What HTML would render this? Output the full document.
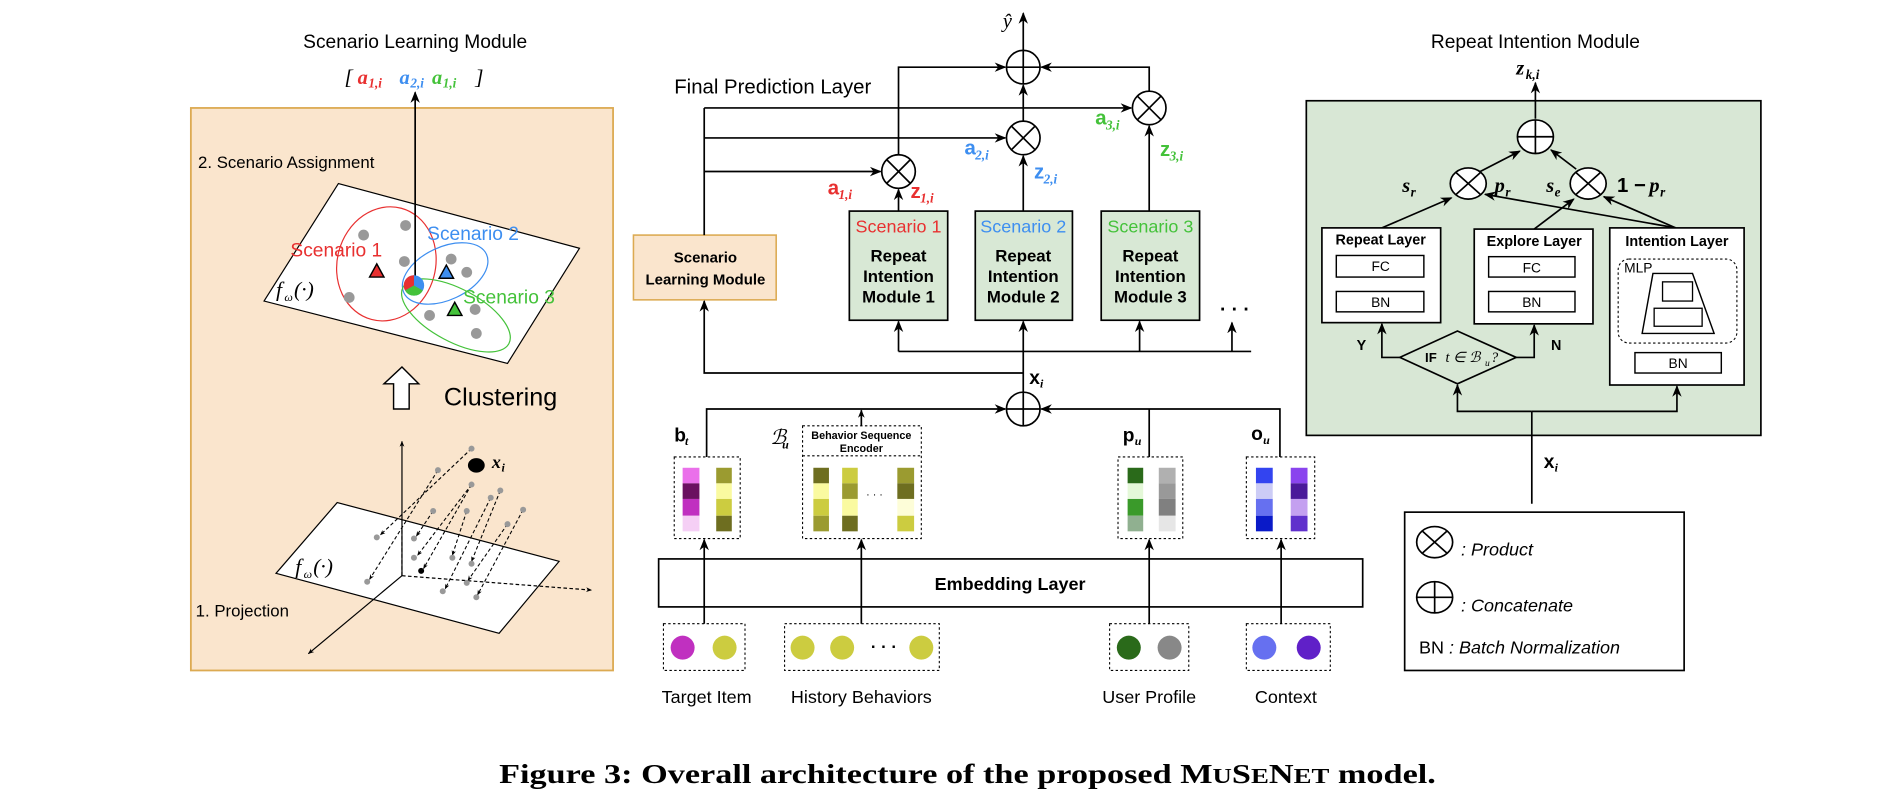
<!DOCTYPE html>
<html><head><meta charset="utf-8"><style>
html,body{margin:0;padding:0;background:#fff}
svg{display:block}
text{font-family:"Liberation Sans",sans-serif}
text.m,tspan.m{font-family:"Liberation Serif",serif;font-style:italic}
.b{font-weight:bold}
text.cap{font-family:"Liberation Serif",serif;font-weight:bold}
</style></head><body>
<svg width="1881" height="806" viewBox="0 0 1568 672" xmlns="http://www.w3.org/2000/svg">
<defs>
<marker id="a" viewBox="0 0 10 10" refX="9" refY="5" markerWidth="7" markerHeight="7" orient="auto"><path d="M0,1 L10,5 L0,9 L3,5z" fill="#000"/></marker>
<marker id="s" viewBox="0 0 10 10" refX="9" refY="5" markerWidth="5" markerHeight="5" orient="auto"><path d="M0,1 L10,5 L0,9 L3,5z" fill="#000"/></marker>
</defs>
<g stroke="#000" fill="none" stroke-width="1.4">
<rect x="159" y="90" width="352" height="469" fill="#fae5cd" stroke="#dcaa52" stroke-width="1.5"/>
<polygon points="220,251 282,153 483,207 423,303" fill="#fff" stroke-width="1"/>
<ellipse cx="322" cy="220" rx="41" ry="48" transform="rotate(15 322 220)" stroke="#e83030" stroke-width="1"/>
<ellipse cx="371" cy="228" rx="38" ry="22" transform="rotate(-25 371 228)" stroke="#3d8ef0" stroke-width="1"/>
<ellipse cx="380" cy="263" rx="50" ry="22" transform="rotate(28 380 263)" stroke="#44c23a" stroke-width="1"/>
<line x1="346" y1="234" x2="346" y2="77" marker-end="url(#a)"/>
<polygon points="314,220 308,231 320,231" fill="#e83030" stroke-width="1.2"/>
<polygon points="372,221 366,232 378,232" fill="#3d8ef0" stroke-width="1.2"/>
<polygon points="379,252 373,263 385,263" fill="#44c23a" stroke-width="1.2"/>
<path d="M320,320 L335,306 L349,320 L341,320 L341,341 L328,341 L328,320z" fill="#fff" stroke-width="1.2"/>
<polygon points="230,478 281,419 466,468 416,528" fill="#fff" stroke-width="1"/>
<line x1="335" y1="480" x2="335" y2="368" marker-end="url(#s)" stroke-width="1"/>
<line x1="335" y1="480" x2="257" y2="545" marker-end="url(#s)" stroke-width="1"/>
<line x1="335" y1="480" x2="493" y2="492" marker-end="url(#s)" stroke-width="1" stroke-dasharray="3,2"/>
<line x1="335" y1="480" x2="335" y2="440" stroke-width="1" stroke-dasharray="3,2"/>
<g stroke-dasharray="3,2" stroke-width="0.9">
<line x1="393" y1="374" x2="317" y2="446" marker-end="url(#s)"/>
<line x1="365" y1="392" x2="308" y2="483" marker-end="url(#s)"/>
<line x1="393" y1="404" x2="348" y2="463" marker-end="url(#s)"/>
<line x1="393" y1="404" x2="353" y2="474" marker-end="url(#s)"/>
<line x1="361" y1="426" x2="347" y2="447" marker-end="url(#s)"/>
<line x1="389" y1="426" x2="377" y2="463" marker-end="url(#s)"/>
<line x1="409" y1="415" x2="371" y2="491" marker-end="url(#s)"/>
<line x1="417" y1="409" x2="393" y2="468" marker-end="url(#s)"/>
<line x1="436" y1="425" x2="398" y2="496" marker-end="url(#s)"/>
<line x1="423" y1="437" x2="390" y2="484" marker-end="url(#s)"/>
</g>
</g>
<g fill="#999">
<circle cx="303" cy="196" r="4.5"/><circle cx="338" cy="188" r="4.5"/><circle cx="337" cy="218" r="4.5"/><circle cx="291" cy="248" r="4.5"/>
<circle cx="376" cy="216" r="4.5"/><circle cx="389" cy="227" r="4.5"/><circle cx="358" cy="263" r="4.5"/><circle cx="396" cy="258" r="4.5"/><circle cx="397" cy="278" r="4.5"/>
<circle cx="393" cy="374" r="2.5"/><circle cx="365" cy="392" r="2.5"/><circle cx="393" cy="404" r="2.5"/><circle cx="361" cy="426" r="2.5"/><circle cx="389" cy="426" r="2.5"/><circle cx="409" cy="415" r="2.5"/><circle cx="417" cy="409" r="2.5"/><circle cx="436" cy="425" r="2.5"/><circle cx="423" cy="437" r="2.5"/>
<circle cx="314" cy="448" r="2.5"/><circle cx="345" cy="449" r="2.5"/><circle cx="345" cy="465" r="2.5"/><circle cx="377" cy="465" r="2.5"/><circle cx="393" cy="470" r="2.5"/><circle cx="306" cy="485" r="2.5"/><circle cx="369" cy="493" r="2.5"/><circle cx="389" cy="486" r="2.5"/><circle cx="397" cy="498" r="2.5"/>
</g>
<circle cx="345" cy="238" r="8.5" fill="#3d8ef0"/>
<path d="M345,238 L345,229.5 A8.5,8.5 0 0 0 337.6,242.2 z" fill="#e83030"/>
<path d="M345,238 L337.6,242.2 A8.5,8.5 0 0 0 352.4,242.2 z" fill="#44c23a"/>
<ellipse cx="397" cy="388" rx="7" ry="6" fill="#000"/>
<circle cx="351" cy="476" r="2.5" fill="#000"/>
<text x="346" y="40" font-size="16" text-anchor="middle">Scenario Learning Module</text>
<text x="287" y="70" font-size="18" class="m" font-style="normal">[</text>
<text x="298" y="70" font-size="17" class="m b" fill="#e83030">a</text><text x="307" y="73" font-size="11" class="m b" fill="#e83030">1,i</text>
<text x="333" y="70" font-size="17" class="m b" fill="#3d8ef0">a</text><text x="342" y="73" font-size="11" class="m b" fill="#3d8ef0">2,i</text>
<text x="360" y="70" font-size="17" class="m b" fill="#44c23a">a</text><text x="369" y="73" font-size="11" class="m b" fill="#44c23a">1,i</text>
<text x="396" y="70" font-size="18" class="m" font-style="normal">]</text>
<text x="165" y="140" font-size="14">2. Scenario Assignment</text>
<text x="242" y="214" font-size="16" fill="#e83030">Scenario 1</text>
<text x="356" y="200" font-size="16" fill="#3d8ef0">Scenario 2</text>
<text x="386" y="253" font-size="16" fill="#44c23a">Scenario 3</text>
<text x="230" y="247" font-size="18" class="m">f</text><text x="237" y="251" font-size="10" class="m">ω</text><text x="245" y="247" font-size="18" class="m" font-style="normal">(·)</text>
<text x="370" y="338" font-size="21">Clustering</text>
<text x="246" y="478" font-size="18" class="m">f</text><text x="253" y="482" font-size="10" class="m">ω</text><text x="261" y="478" font-size="18" class="m" font-style="normal">(·)</text>
<text x="163" y="514" font-size="14">1. Projection</text>
<text x="410" y="390" font-size="15" class="m b">x</text><text x="418" y="393" font-size="10" class="m b">i</text>

<g stroke="#000" fill="none" stroke-width="1.4">
<rect x="528" y="196" width="119" height="54" fill="#fae5cd" stroke="#dcaa52" stroke-width="1.3"/>
<rect x="708" y="176" width="82" height="91" fill="#d8e8d5"/>
<rect x="813" y="176" width="81" height="91" fill="#d8e8d5"/>
<rect x="918" y="176" width="82" height="91" fill="#d8e8d5"/>
<circle cx="853" cy="56" r="14" fill="#fff"/><line x1="839" y1="56" x2="867" y2="56"/><line x1="853" y1="42" x2="853" y2="70"/>
<g><circle cx="749" cy="143" r="14" fill="#fff"/><line x1="739" y1="133" x2="759" y2="153"/><line x1="759" y1="133" x2="739" y2="153"/></g>
<g><circle cx="853" cy="115" r="14" fill="#fff"/><line x1="843" y1="105" x2="863" y2="125"/><line x1="863" y1="105" x2="843" y2="125"/></g>
<g><circle cx="958" cy="90" r="14" fill="#fff"/><line x1="948" y1="80" x2="968" y2="100"/><line x1="968" y1="80" x2="948" y2="100"/></g>
<line x1="853" y1="42" x2="853" y2="11" marker-end="url(#a)"/>
<line x1="853" y1="101" x2="853" y2="71" marker-end="url(#a)"/>
<polyline points="749,129 749,56 838,56" marker-end="url(#a)"/>
<polyline points="958,76 958,56 868,56" marker-end="url(#a)"/>
<line x1="749" y1="176" x2="749" y2="158" marker-end="url(#a)"/>
<line x1="853" y1="176" x2="853" y2="130" marker-end="url(#a)"/>
<line x1="958" y1="176" x2="958" y2="105" marker-end="url(#a)"/>
<line x1="587" y1="196" x2="587" y2="90"/>
<line x1="587" y1="90" x2="943" y2="90" marker-end="url(#a)"/>
<line x1="587" y1="115" x2="838" y2="115" marker-end="url(#a)"/>
<line x1="587" y1="143" x2="734" y2="143" marker-end="url(#a)"/>
<line x1="749" y1="293" x2="1043" y2="293"/>
<line x1="749" y1="293" x2="749" y2="268" marker-end="url(#a)"/>
<line x1="950" y1="293" x2="950" y2="268" marker-end="url(#a)"/>
<line x1="1027" y1="293" x2="1027" y2="269" marker-end="url(#a)"/>
<line x1="853" y1="327" x2="853" y2="268" marker-end="url(#a)"/>
<polyline points="853,311 587,311 587,251" marker-end="url(#a)"/>
<circle cx="853" cy="341" r="14" fill="#fff"/><line x1="839" y1="341" x2="867" y2="341"/><line x1="853" y1="327" x2="853" y2="355"/>
<polyline points="589,381 589,341 838,341" marker-end="url(#a)"/>
<polyline points="1067,381 1067,341 868,341" marker-end="url(#a)"/>
<line x1="958" y1="381" x2="958" y2="341"/>
<line x1="718" y1="355" x2="718" y2="342" marker-end="url(#s)"/>
<rect x="549" y="466" width="587" height="40"/>
<line x1="587" y1="520" x2="587" y2="450" marker-end="url(#a)"/>
<line x1="718" y1="520" x2="718" y2="450" marker-end="url(#a)"/>
<line x1="958" y1="520" x2="958" y2="450" marker-end="url(#a)"/>
<line x1="1068" y1="520" x2="1068" y2="450" marker-end="url(#a)"/>
<g stroke-dasharray="2,2" stroke-width="0.9">
<rect x="562" y="381" width="55" height="68"/>
<rect x="669" y="355" width="99" height="94"/>
<line x1="669" y1="380" x2="768" y2="380"/>
<rect x="932" y="381" width="54" height="68"/>
<rect x="1039" y="381" width="57" height="68"/>
<rect x="553" y="520" width="68" height="39"/>
<rect x="654" y="520" width="129" height="39"/>
<rect x="925" y="520" width="66" height="39"/>
<rect x="1039" y="520" width="70" height="39"/>
</g>
</g>
<g>
<rect x="569" y="390" width="14" height="13" fill="#ea70ea"/><rect x="569" y="403" width="14" height="13" fill="#6a1060"/><rect x="569" y="416" width="14" height="14" fill="#c030c0"/><rect x="569" y="430" width="14" height="13" fill="#f5cff5"/>
<rect x="597" y="390" width="13" height="13" fill="#9b9b30"/><rect x="597" y="403" width="13" height="13" fill="#fafaa0"/><rect x="597" y="416" width="13" height="14" fill="#cccc40"/><rect x="597" y="430" width="13" height="13" fill="#6e6e20"/>
<rect x="678" y="390" width="13" height="13" fill="#6e6e20"/><rect x="678" y="403" width="13" height="13" fill="#fafaa0"/><rect x="678" y="416" width="13" height="14" fill="#cccc40"/><rect x="678" y="430" width="13" height="13" fill="#9b9b30"/>
<rect x="702" y="390" width="13" height="13" fill="#cccc40"/><rect x="702" y="403" width="13" height="13" fill="#9b9b30"/><rect x="702" y="416" width="13" height="14" fill="#fafaa0"/><rect x="702" y="430" width="13" height="13" fill="#6e6e20"/>
<rect x="748" y="390" width="14" height="13" fill="#9b9b30"/><rect x="748" y="403" width="14" height="13" fill="#6e6e20"/><rect x="748" y="416" width="14" height="14" fill="#fdfdd8"/><rect x="748" y="430" width="14" height="13" fill="#cccc40"/>
<rect x="940" y="390" width="13" height="13" fill="#2a6a1a"/><rect x="940" y="403" width="13" height="13" fill="#e4f8d8"/><rect x="940" y="416" width="13" height="14" fill="#3a9a2a"/><rect x="940" y="430" width="13" height="13" fill="#90b090"/>
<rect x="966" y="390" width="14" height="13" fill="#b0b0b0"/><rect x="966" y="403" width="14" height="13" fill="#999"/><rect x="966" y="416" width="14" height="14" fill="#808080"/><rect x="966" y="430" width="14" height="13" fill="#e6e6e6"/>
<rect x="1047" y="390" width="14" height="13" fill="#3344f0"/><rect x="1047" y="403" width="14" height="13" fill="#ccccf6"/><rect x="1047" y="416" width="14" height="14" fill="#6670f0"/><rect x="1047" y="430" width="14" height="13" fill="#0a1ac8"/>
<rect x="1076" y="390" width="14" height="13" fill="#8a44ee"/><rect x="1076" y="403" width="14" height="13" fill="#4a1a9a"/><rect x="1076" y="416" width="14" height="14" fill="#c4a0f0"/><rect x="1076" y="430" width="14" height="13" fill="#6030cc"/>
<ellipse cx="569" cy="540" rx="10" ry="10" fill="#c030c0"/><ellipse cx="604" cy="540" rx="10" ry="10" fill="#cccc40"/>
<ellipse cx="669" cy="540" rx="10" ry="10" fill="#cccc40"/><ellipse cx="702" cy="540" rx="10" ry="10" fill="#cccc40"/><ellipse cx="768" cy="540" rx="10" ry="10" fill="#cccc40"/>
<ellipse cx="941" cy="540" rx="10" ry="10" fill="#2a6a1a"/><ellipse cx="975" cy="540" rx="10" ry="10" fill="#888"/>
<ellipse cx="1054" cy="540" rx="10" ry="10" fill="#6670f0"/><ellipse cx="1091" cy="540" rx="10" ry="10" fill="#6020c8"/>
</g>
<text x="726" y="544" font-size="14" font-weight="bold">· · ·</text>
<text x="722" y="415" font-size="9">· · ·</text>
<text x="1017" y="263" font-size="16" font-weight="bold">· · ·</text>
<text x="836" y="23" font-size="17" class="m">ŷ</text>
<text x="562" y="78" font-size="17">Final Prediction Layer</text>
<text x="588" y="219" font-size="12.5" text-anchor="middle" class="b">Scenario</text>
<text x="588" y="237" font-size="12.5" text-anchor="middle" class="b">Learning Module</text>
<g font-size="15" text-anchor="middle">
<text x="749" y="194" fill="#e83030">Scenario 1</text><text x="853" y="194" fill="#3d8ef0">Scenario 2</text><text x="959" y="194" fill="#44c23a">Scenario 3</text>
</g>
<g font-size="14" text-anchor="middle" class="b">
<text x="749" y="218">Repeat</text><text x="749" y="235">Intention</text><text x="749" y="252">Module 1</text>
<text x="853" y="218">Repeat</text><text x="853" y="235">Intention</text><text x="853" y="252">Module 2</text>
<text x="959" y="218">Repeat</text><text x="959" y="235">Intention</text><text x="959" y="252">Module 3</text>
</g>
<g class="m b">
<text x="690" y="162" font-size="17" fill="#e83030">a</text><text x="699" y="166" font-size="11" class="m b" fill="#e83030">1,i</text>
<text x="759" y="165" font-size="17" fill="#e83030">z</text><text x="767" y="169" font-size="11" class="m b" fill="#e83030">1,i</text>
<text x="804" y="129" font-size="17" fill="#3d8ef0">a</text><text x="813" y="133" font-size="11" class="m b" fill="#3d8ef0">2,i</text>
<text x="862" y="149" font-size="17" fill="#3d8ef0">z</text><text x="870" y="153" font-size="11" class="m b" fill="#3d8ef0">2,i</text>
<text x="913" y="104" font-size="17" fill="#44c23a">a</text><text x="922" y="108" font-size="11" class="m b" fill="#44c23a">3,i</text>
<text x="967" y="130" font-size="17" fill="#44c23a">z</text><text x="975" y="134" font-size="11" class="m b" fill="#44c23a">3,i</text>
</g>
<text x="858" y="320" font-size="16" class="b" font-family="Liberation Serif">x</text><text x="867" y="323" font-size="10" class="m b">i</text>
<text x="562" y="368" font-size="16" class="b" font-family="Liberation Serif">b</text><text x="571" y="371" font-size="10" class="m b">t</text>
<text x="642" y="370" font-size="17" class="m">ℬ</text><text x="652" y="374" font-size="10" class="m b">u</text>
<text x="936" y="368" font-size="16" class="b">p</text><text x="946" y="371" font-size="10" class="m b">u</text>
<text x="1043" y="367" font-size="16" class="b">o</text><text x="1053" y="370" font-size="10" class="m b">u</text>
<text x="718" y="366" font-size="9" text-anchor="middle" class="b">Behavior Sequence</text>
<text x="718" y="377" font-size="9" text-anchor="middle" class="b">Encoder</text>
<text x="842" y="492" font-size="15" text-anchor="middle" class="b">Embedding Layer</text>
<g font-size="15" text-anchor="middle">
<text x="589" y="586">Target Item</text><text x="718" y="586">History Behaviors</text><text x="958" y="586">User Profile</text><text x="1072" y="586">Context</text>
</g>

<g stroke="#000" fill="none" stroke-width="1.4">
<rect x="1089" y="84" width="379" height="279" fill="#d8e7d5"/>
<line x1="1280" y1="99" x2="1280" y2="69" marker-end="url(#a)"/>
<line x1="1234" y1="143" x2="1267" y2="126" marker-end="url(#a)"/>
<line x1="1314" y1="141" x2="1293" y2="125" marker-end="url(#a)"/>
<line x1="1152" y1="190" x2="1210" y2="165" marker-end="url(#a)"/>
<line x1="1279" y1="191" x2="1312" y2="166" marker-end="url(#a)"/>
<line x1="1397" y1="190" x2="1238" y2="162" marker-end="url(#a)"/>
<line x1="1397" y1="190" x2="1337" y2="164" marker-end="url(#a)"/>
<ellipse cx="1280" cy="114" rx="15" ry="14" fill="#fff"/><line x1="1265" y1="114" x2="1295" y2="114"/><line x1="1280" y1="100" x2="1280" y2="128"/>
<g><ellipse cx="1224" cy="153" rx="15" ry="13" fill="#fff"/><line x1="1214" y1="144" x2="1234" y2="162"/><line x1="1234" y1="144" x2="1214" y2="162"/></g>
<g><ellipse cx="1324" cy="153" rx="15" ry="13" fill="#fff"/><line x1="1314" y1="144" x2="1334" y2="162"/><line x1="1334" y1="144" x2="1314" y2="162"/></g>
<rect x="1102" y="190" width="99" height="79" fill="#fff"/>
<rect x="1229" y="191" width="99" height="79" fill="#fff"/>
<rect x="1342" y="190" width="112" height="131" fill="#fff"/>
<rect x="1114" y="213" width="73" height="18" stroke-width="1.2"/><rect x="1114" y="243" width="73" height="17" stroke-width="1.2"/>
<rect x="1241" y="214" width="72" height="17" stroke-width="1.2"/><rect x="1241" y="243" width="72" height="17" stroke-width="1.2"/>
<rect x="1349" y="216" width="99" height="70" rx="9" stroke-dasharray="2,2" stroke-width="0.9"/>
<polygon points="1369,278 1429,278 1411,228 1378,228" stroke-width="1.2"/>
<rect x="1386" y="235" width="25" height="16" stroke-width="1.1"/><rect x="1379" y="257" width="40" height="15" stroke-width="1.1"/>
<rect x="1363" y="294" width="72" height="17" stroke-width="1.2"/>
<polygon points="1167,298 1215,276 1264,298 1215,320" fill="#d8e7d5"/>
<polyline points="1167,298 1152,298 1152,270" marker-end="url(#a)"/>
<polyline points="1264,298 1279,298 1279,271" marker-end="url(#a)"/>
<line x1="1277" y1="420" x2="1277" y2="343"/>
<polyline points="1277,343 1215,343 1215,321" marker-end="url(#a)"/>
<polyline points="1277,343 1398,343 1398,322" marker-end="url(#a)"/>
<rect x="1171" y="427" width="233" height="132" fill="#fff"/>
<g><ellipse cx="1196" cy="452" rx="15" ry="13"/><line x1="1186" y1="443" x2="1206" y2="461"/><line x1="1206" y1="443" x2="1186" y2="461"/></g>
<g><ellipse cx="1196" cy="498" rx="15" ry="13"/><line x1="1181" y1="498" x2="1211" y2="498"/><line x1="1196" y1="485" x2="1196" y2="511"/></g>
</g>
<text x="1280" y="40" font-size="16" text-anchor="middle">Repeat Intention Module</text>
<text x="1264" y="62" font-size="17" class="m b">z</text><text x="1272" y="66" font-size="11" class="m b">k,i</text>
<text x="1169" y="160" font-size="17" class="m b">s</text><text x="1176" y="164" font-size="11" class="m b">r</text>
<text x="1246" y="160" font-size="17" class="m b">p</text><text x="1255" y="164" font-size="11" class="m b">r</text>
<text x="1289" y="160" font-size="17" class="m b">s</text><text x="1296" y="164" font-size="11" class="m b">e</text>
<text x="1348" y="160" font-size="17" class="b" font-family="Liberation Serif">1 − </text><text x="1375" y="160" font-size="17" class="m b">p</text><text x="1384" y="164" font-size="11" class="m b">r</text>
<text x="1287" y="390" font-size="16" class="b" font-family="Liberation Serif">x</text><text x="1296" y="393" font-size="10" class="m b">i</text>
<g font-size="12" text-anchor="middle" class="b">
<text x="1151" y="204">Repeat Layer</text><text x="1279" y="205">Explore Layer</text><text x="1398" y="205">Intention Layer</text>
</g>
<g font-size="11.5" text-anchor="middle">
<text x="1151" y="226">FC</text><text x="1151" y="256">BN</text><text x="1277" y="227">FC</text><text x="1277" y="256">BN</text><text x="1399" y="307">BN</text>
</g>
<text x="1354" y="227" font-size="11.5">MLP</text>
<text x="1188" y="302" font-size="11" class="b">IF</text><text x="1205" y="302" font-size="12" class="m">t ∈ ℬ</text><text x="1238" y="305" font-size="8" class="m">u</text><text x="1243" y="302" font-size="12" class="m">?</text>
<text x="1131" y="292" font-size="12" class="b">Y</text>
<text x="1293" y="292" font-size="12" class="b">N</text>
<g font-size="15" font-style="italic">
<text x="1218" y="463">: Product</text>
<text x="1218" y="510">: Concatenate</text>
<text x="1183" y="545"><tspan font-style="normal">BN</tspan> : Batch Normalization</text>
</g>
<text x="416" y="653" font-size="23" class="cap" textLength="781" lengthAdjust="spacingAndGlyphs">Figure 3: Overall architecture of the proposed M<tspan font-size="18">U</tspan>S<tspan font-size="18">E</tspan>N<tspan font-size="18">ET</tspan> model.</text>
</svg>
</body></html>
